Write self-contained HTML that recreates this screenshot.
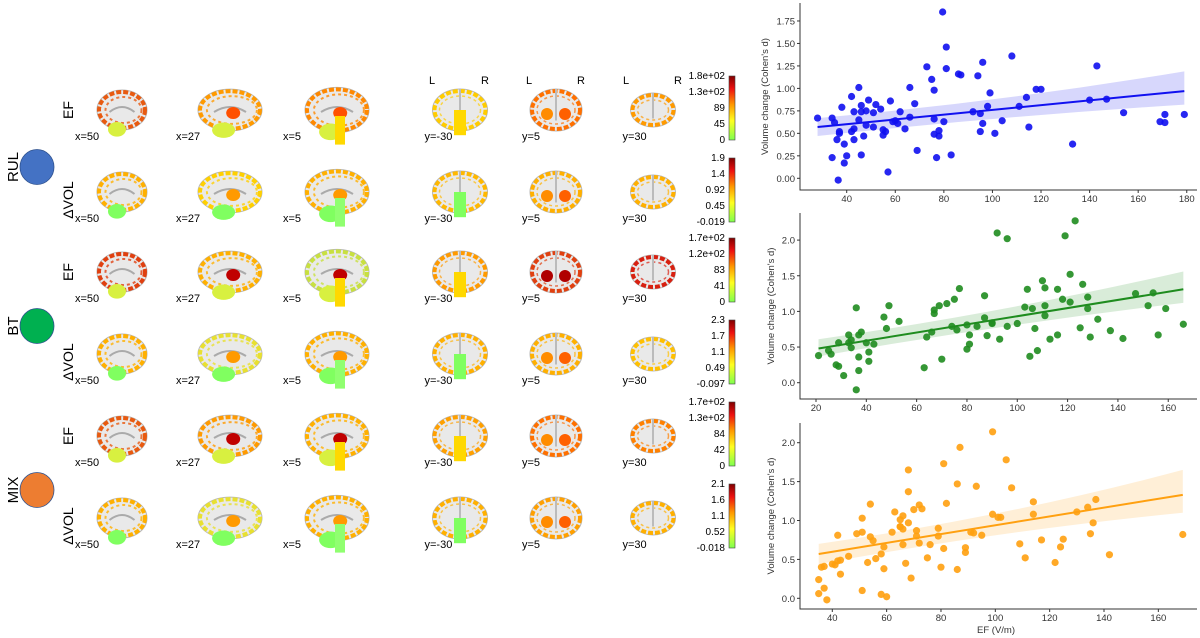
<!DOCTYPE html>
<html><head><meta charset="utf-8"><style>
body{margin:0;background:#fff;}
svg{display:block;font-family:"Liberation Sans",sans-serif;}
</style></head><body>
<svg id="fig" width="1200" height="638" viewBox="0 0 1200 638">
<defs>
<linearGradient id="cb" x1="0" y1="1" x2="0" y2="0">
<stop offset="0" stop-color="#7fff50"/><stop offset="0.3" stop-color="#ffff20"/><stop offset="0.55" stop-color="#ff9a00"/><stop offset="0.8" stop-color="#ee1010"/><stop offset="1" stop-color="#800000"/>
</linearGradient>
</defs>
<g id="brains"></g>
<g id="plots"></g>
</svg>
<script>
const NS="http://www.w3.org/2000/svg";
function mk(p,t,a,txt){const e=document.createElementNS(NS,t);for(const k in a)e.setAttribute(k,a[k]);if(txt!==undefined)e.textContent=txt;p.appendChild(e);return e;}

// ---------- brain panels ----------
const B=document.getElementById('brains');
const rowY=[110,192,272,354,436,518];
const rowLbl=['EF','ΔVOL','EF','ΔVOL','EF','ΔVOL'];
const cbTicks=[["1.8e+02","1.3e+02","89","45","0"],["1.9","1.4","0.92","0.45","-0.019"],["1.7e+02","1.2e+02","83","41","0"],["2.3","1.7","1.1","0.49","-0.097"],["1.7e+02","1.3e+02","84","42","0"],["2.1","1.6","1.1","0.52","-0.018"]];
const groups=[["RUL","#4472c4",167],["BT","#00b050",326],["MIX","#ed7d31",490]];
const sliceLbl=["x=50","x=27","x=5","y=-30","y=5","y=30"];
const cols=[[122,50,46],[230,64,48],[337,64,52],[460,55,42],[556,52,42],[653,45,34]];
const rimCols=[["#e85a10","#ff9a00","#ff8800","#ffcc00","#ff7000","#ff9a00"],["#ffb000","#ffd000","#ffb000","#ffb800","#ffb000","#ffb000"],["#e04010","#ffb000","#c8e040","#ff9a00","#e04010","#d82010"],["#ffb000","#e8e030","#ffb000","#ffb000","#ffb000","#ffc000"],["#e85a10","#ff9a00","#ffb000","#ffa000","#ff7000","#ff8000"],["#ffb000","#e8e030","#ffb000","#ffb000","#ffa000","#ffb000"]];
groups.forEach(g=>{
  const t=mk(B,'text',{x:18,y:g[2],'font-size':15,'text-anchor':'middle',transform:`rotate(-90 18 ${g[2]})`},g[0]);
  
  
  const c=mk(B,'ellipse',{cx:37,cy:g[2],rx:17,ry:17.5,fill:g[1],stroke:'#2f528f','stroke-width':0.8});
  
  
});
rowY.forEach((y,r)=>{
  const lx=73,ly=y+(r%2?8:0);
  const t=mk(B,'text',{x:lx,y:ly,'font-size':14,'text-anchor':'middle',transform:`rotate(-90 ${lx} ${ly})`},rowLbl[r]);
  
  
  cols.forEach((c,i)=>{
    const g=mk(B,'g',{});
    
    
    const [cx,w,h]=c, rim=rimCols[r][i];
    if(i<3){
      mk(g,'ellipse',{cx:cx,cy:y,rx:w/2,ry:h/2.3,fill:'#e9e9e9',stroke:'#b8b8b8','stroke-width':1});
      mk(g,'ellipse',{cx:cx,cy:y,rx:w/2-2,ry:h/2.3-2,fill:'none',stroke:rim,'stroke-width':4,'stroke-dasharray':'5 2'});
      mk(g,'ellipse',{cx:cx+w*0.03,cy:y,rx:w/2-7,ry:h/2.3-7,fill:'none',stroke:rim,'stroke-width':2,'stroke-dasharray':'3 3',opacity:0.8});
      mk(g,'path',{d:`M${cx-w*0.25},${y+2} Q${cx},${y-8} ${cx+w*0.25},${y+2}`,fill:'none',stroke:'#aaa','stroke-width':2});
      mk(g,'ellipse',{cx:cx-w*0.1,cy:y+h*0.42,rx:w*0.18,ry:h*0.16,fill:(r%2?'#80ff60':'#d8f040')});
      if(i>0) mk(g,'ellipse',{cx:cx+w*0.05,cy:y+3,rx:7,ry:6,fill:(r==1||r==3||r==5)?'#ff9a00':(r==0?'#ff5000':'#c00000')});
      if(i==2) mk(g,'rect',{x:cx-2,y:y+6,width:10,height:h*0.55,fill:(r%2?'#90ff70':'#ffd800')});
    } else {
      mk(g,'ellipse',{cx:cx,cy:y,rx:w/2,ry:h/2,fill:'#e9e9e9',stroke:'#b8b8b8','stroke-width':1});
      mk(g,'ellipse',{cx:cx,cy:y,rx:w/2-2,ry:h/2-2,fill:'none',stroke:rim,'stroke-width':4,'stroke-dasharray':'5 2'});
      mk(g,'ellipse',{cx:cx,cy:y,rx:w/2-7,ry:h/2-7,fill:'none',stroke:rim,'stroke-width':1.5,'stroke-dasharray':'3 3',opacity:0.7});
      mk(g,'line',{x1:cx,y1:y-h/2,x2:cx,y2:y+h/4,stroke:'#bbb','stroke-width':2});
      if(i==3) mk(g,'rect',{x:cx-6,y:y,width:12,height:h*0.6,fill:(r%2?'#80ff60':'#ffd800')});
      if(i==4) {mk(g,'ellipse',{cx:cx-9,cy:y+4,rx:6,ry:6,fill:(r==2?'#b00000':'#ff8c00')});mk(g,'ellipse',{cx:cx+9,cy:y+4,rx:6,ry:6,fill:(r==2?'#b00000':'#ff6000')});}
    }
    const tl=mk(B,'text',{x:cx-w/2-(i<3?22:8),y:y+30,'font-size':11},sliceLbl[i]);
    
    
  });
  const cb=mk(B,'rect',{x:729,y:y-34,width:6,height:64,fill:'url(#cb)',stroke:'#444','stroke-width':0.6});
  
  
  cbTicks[r].forEach((s,k)=>{
    const tt=mk(B,'text',{x:725,y:y-31+k*16,'font-size':10,'text-anchor':'end'},s);
    
    
  });
});
[[432,485],[529,581],[626,678]].forEach(p=>{
  const a=mk(B,'text',{x:p[0],y:84,'font-size':11,'text-anchor':'middle'},'L');
  
  const b=mk(B,'text',{x:p[1],y:84,'font-size':11,'text-anchor':'middle'},'R');
  
});

// ---------- scatter data ----------
const rulX=[28,34,35,34,37,37,36,36.5,38,39,39,40,42,42,43,43,43,45,45,46,46,46,47,48,48,49,51,51,52,54,55,55,56,57,58,59,60,61,62,64,66,66,68,69,73,75,76,76,76,77,78,78,79.5,80,81,81,83,86,87,92,94,95,96,96,95,98,99,101,104,108,111,114,115,118,120,133,140,143,147,154,169,171,171,179];
const rulY=[.67,.67,.62,.23,.52,.50,.43,-.02,.79,.38,.17,.25,.91,.52,.55,.74,.43,1.01,.65,.81,.74,.26,.47,.59,.75,.87,.57,.73,.82,.77,.54,.48,.52,.07,.86,.63,.64,.61,.74,.55,.68,1.01,.83,.31,1.24,1.10,.98,.66,.49,.23,.53,.47,1.85,.63,1.46,1.22,.26,1.16,1.15,.74,1.14,.72,1.29,.61,.52,.80,.95,.50,.64,1.36,.80,.90,.57,.99,.99,.38,.87,1.25,.88,.73,.63,.62,.71,.71];
const btX=[21,25,26,28,29,29,31,33,33,34,34,36,36,37,37,37,38,40,41,41,43,47,48,49,53,63,64,66,67,67,69,70,72,74,75,76,77,80,80,81,81,84,87,87,88,90,90,92,93,96,96,100,103,104,105,106,107,108,110,111,111,111,113,116,116,118,119,121,121,123,125,126,128,128,129,132,137,142,147,152,154,156,159,166];
const btY=[.38,.45,.40,.25,.23,.56,.10,.67,.56,.60,.49,1.05,-.10,.67,.36,.17,.71,.56,.30,.43,.54,.92,.76,1.08,.86,.21,.64,.71,1.02,.97,1.08,.33,1.11,.79,1.17,.74,1.32,.81,.47,.67,.54,.79,1.22,.91,.66,.83,.84,2.10,.61,2.02,.79,.83,1.06,1.31,.37,1.04,.76,.45,1.43,1.33,1.08,.94,.61,1.31,.67,1.17,2.06,1.52,1.13,2.27,.77,1.38,1.04,1.20,.64,.89,.73,.62,1.25,1.08,1.26,.67,1.04,.82];
const mixX=[35,35,36,37,37,38,40,41,42,42,43,43,46,49,51,51,51,53,54,54,55,56,58,58,59,59,60,62,63,65,65,65,66,66,66,67,68,68,68,69,70,71,71,72,72,73,75,76,79,79,80,81,81,82,86,86,87,89,89,91,92,93,95,99,99,101,102,104,106,109,111,114,114,117,122,124,125,130,134,135,136,137,142,169];
const mixY=[.24,.06,.40,.41,.13,-.02,.44,.43,.81,.48,.49,.31,.54,.83,.85,1.03,.10,.46,1.21,.79,.74,.51,.57,.05,.66,.38,.02,.85,1.11,1.01,.92,.92,.89,1.06,.69,.45,1.37,.97,1.65,.26,1.14,.87,.80,1.20,.71,1.15,.52,.69,.90,.80,.40,1.73,.64,1.22,1.47,.37,1.94,.65,.59,.85,.84,1.44,.81,2.14,1.08,1.04,1.04,1.78,1.42,.70,.52,1.24,1.08,.75,.46,.66,.76,1.11,1.17,.83,.97,1.27,.56,.82];
const rulFit=[28,.57,179,.97]; const rulCI=[.47,.67,.82,1.19];
const btFit=[21,.48,166,1.31]; const btCI=[.37,.61,1.12,1.56];
const mixFit=[35,.57,169,1.33]; const mixCI=[.44,.70,1.10,1.65];
const rulXT=[40,60,80,100,120,140,160,180]; const rulYT=[0,.25,.5,.75,1,1.25,1.5,1.75];
const btXT=[20,40,60,80,100,120,140,160]; const btYT=[0,.5,1,1.5,2];
const mixXT=[40,60,80,100,120,140,160]; const mixYT=[0,.5,1,1.5,2];

const P=document.getElementById('plots');
function plot(o){
  const sx=v=>o.xa+(v-o.x0v)*o.kx, sy=v=>o.ya-(v-o.y0v)*o.ky;
  const g=mk(P,'g',{});
  
  
  const f=o.fit,c=o.ci,xm=(f[0]+f[2])/2,ym=(f[1]+f[3])/2,dm=0.05;
  const band=mk(g,'path',{d:`M${sx(f[0])},${sy(c[1])} Q${sx(xm)},${sy(ym+dm*1.6)} ${sx(f[2])},${sy(c[3])} L${sx(f[2])},${sy(c[2])} Q${sx(xm)},${sy(ym-dm*1.6)} ${sx(f[0])},${sy(c[0])} Z`,fill:o.col,opacity:0.17});
  
  
  o.xs.forEach((x,i)=>{
    const d=mk(g,'circle',{cx:sx(x),cy:sy(o.ys[i]),r:3.6,fill:o.col,opacity:0.9});
    
    
  });
  const ln=mk(g,'line',{x1:sx(f[0]),y1:sy(f[1]),x2:sx(f[2]),y2:sy(f[3]),stroke:o.col,'stroke-width':2});
  
  
  const ax=mk(g,'path',{d:`M800,${o.top} V${o.bot} H1197`,fill:'none',stroke:'#333','stroke-width':1});
  
  
  o.xt.forEach(v=>{
    mk(g,'line',{x1:sx(v),y1:o.bot,x2:sx(v),y2:o.bot+3,stroke:'#333'});
    const t=mk(g,'text',{x:sx(v),y:o.bot+12,'font-size':9.5,'text-anchor':'middle',fill:'#333'},String(v));
    
    
  });
  o.yt.forEach(v=>{
    mk(g,'line',{x1:797,y1:sy(v),x2:800,y2:sy(v),stroke:'#333'});
    const t=mk(g,'text',{x:795,y:sy(v)+3.5,'font-size':9.5,'text-anchor':'end',fill:'#333'},v.toFixed(o.dec));
    
    
  });
  const yl=(o.top+o.bot)/2;
  const t=mk(g,'text',{x:o.ylx,y:yl,'font-size':9.5,'text-anchor':'middle',fill:'#333',transform:`rotate(-90 ${o.ylx} ${yl})`},"Volume change (Cohen's d)");
  
  
}
plot({name:'rul-scatter',xs:rulX,ys:rulY,fit:rulFit,ci:rulCI,xt:rulXT,yt:rulYT,dec:2,col:'#1010f0',xa:846.7,x0v:40,kx:2.429,ya:178.3,y0v:0,ky:89.9,top:3,bot:190,ylx:768});
plot({name:'bt-scatter',xs:btX,ys:btY,fit:btFit,ci:btCI,xt:btXT,yt:btYT,dec:1,col:'#1f8c1f',xa:816,x0v:20,kx:2.516,ya:382.7,y0v:0,ky:71.3,top:213,bot:399,ylx:774});
plot({name:'mix-scatter',xs:mixX,ys:mixY,fit:mixFit,ci:mixCI,xt:mixXT,yt:mixYT,dec:1,col:'#ffa010',xa:832.3,x0v:40,kx:2.717,ya:598.3,y0v:0,ky:77.8,top:423,bot:609,ylx:774});
const xl=mk(P,'text',{x:996,y:633,'font-size':9.5,'text-anchor':'middle',fill:'#333'},'EF (V/m)');


</script>
</body></html>
